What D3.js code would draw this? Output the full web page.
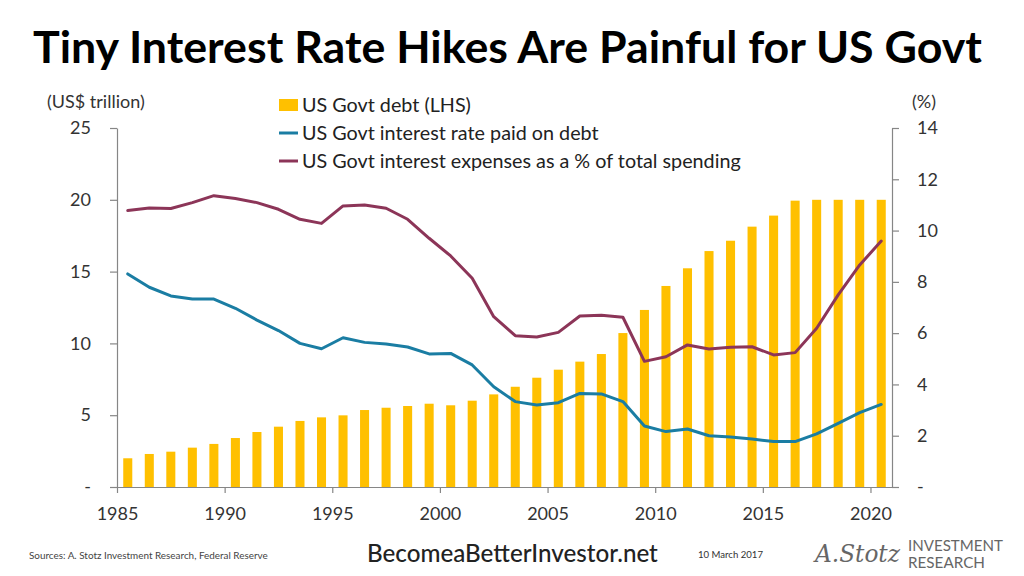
<!DOCTYPE html>
<html><head><meta charset="utf-8">
<script src="https://cdn.jsdelivr.net/npm/d3@7"></script>
<style>body{margin:0;background:#fff}svg{display:block}</style>
</head><body>
<svg id="c" width="1024" height="576"></svg>
<script>
const years = [1985,1986,1987,1988,1989,1990,1991,1992,1993,1994,1995,1996,1997,1998,1999,2000,2001,2002,2003,2004,2005,2006,2007,2008,2009,2010,2011,2012,2013,2014,2015,2016,2017,2018,2019,2020];
const debt = [2.0,2.3,2.46,2.74,3.0,3.41,3.83,4.2,4.6,4.85,4.99,5.36,5.52,5.64,5.8,5.69,6.01,6.45,6.98,7.61,8.17,8.73,9.26,10.72,12.33,14.0,15.23,16.43,17.15,18.13,18.9,19.94,20,20,20,20];
const ratePaid = [8.31,7.79,7.45,7.33,7.33,6.97,6.51,6.10,5.60,5.39,5.82,5.64,5.58,5.46,5.19,5.21,4.76,3.91,3.33,3.20,3.29,3.65,3.63,3.33,2.38,2.16,2.26,2.00,1.95,1.87,1.77,1.77,2.07,2.48,2.90,3.22];
const interestShare = [10.78,10.88,10.86,11.09,11.36,11.25,11.09,10.83,10.44,10.28,10.96,11.0,10.87,10.44,9.70,9.01,8.14,6.64,5.90,5.85,6.03,6.67,6.70,6.62,4.90,5.08,5.54,5.38,5.45,5.47,5.15,5.24,6.19,7.49,8.66,9.59];
const xTicks = [1985,1990,1995,2000,2005,2010,2015,2020];
const leftTicks = [0,5,10,15,20,25];
const rightTicks = [0,2,4,6,8,10,12,14];
const legendLabels = ["US Govt debt (LHS)","US Govt interest rate paid on debt","US Govt interest expenses as a % of total spending"];
const title = "Tiny Interest Rate Hikes Are Painful for US Govt";

const C = {bar:"#FFC000", blue:"#1A7DA3", red:"#8C3558", axis:"#868686", text:"#333"};
const FONT = "Lato, 'Open Sans', sans-serif";
const svg = d3.select("#c");
const L = 117, R = 892, T = 128, B = 487;

function fit(sel, w){ const s = +sel.attr("font-size"); const l = sel.node().getComputedTextLength(); sel.attr("font-size", s*w/l); return sel; }

// title
fit(svg.append("text").attr("x",33).attr("y",63).attr("font-family",FONT).attr("font-weight",700)
  .attr("font-size",46).attr("fill","#000").text(title), 949);

const xb = d3.scaleBand().domain(years).range([L,R]).padding(0);
const xl = d3.scaleLinear().domain([1985,2021]).range([L,R]);
const yL = d3.scaleLinear().domain([0,25]).range([B,T]);
const yR = d3.scaleLinear().domain([0,14]).range([B,T]);
const barW = xb.bandwidth()*0.42;

// bars
svg.append("g").selectAll("rect").data(years).join("rect")
  .attr("x", (d)=> xb(d) + (xb.bandwidth()-barW)/2)
  .attr("width", barW)
  .attr("y", (d,i)=> yL(debt[i]))
  .attr("height", (d,i)=> B - yL(debt[i]))
  .attr("fill", C.bar);

// axes
function styleAxis(g){
  g.selectAll("path,line").attr("stroke",C.axis).attr("stroke-width",1.2);
  g.selectAll("text").attr("font-family",FONT).attr("font-size",18).attr("fill",C.text);
}
const fmt = d => d===0 ? "-" : d;
svg.append("g").attr("transform",`translate(${L},0)`)
  .call(d3.axisLeft(yL).tickValues(leftTicks).tickFormat(fmt).tickSize(7).tickSizeOuter(0).tickPadding(19))
  .call(styleAxis);
svg.append("g").attr("transform",`translate(${R},0)`)
  .call(d3.axisRight(yR).tickValues(rightTicks).tickFormat(fmt).tickSize(7).tickSizeOuter(0).tickPadding(18))
  .call(styleAxis);
svg.append("g").attr("transform",`translate(0,${B})`)
  .call(d3.axisBottom(xl).tickValues(xTicks).tickFormat(d3.format("d")).tickSize(6).tickSizeOuter(0).tickPadding(14))
  .call(styleAxis);

// lines
const cx = d => xb(d) + xb.bandwidth()/2;
const line = arr => d3.line().x(d=>cx(d)).y((d,i)=>yR(arr[i]))(years);
svg.append("path").attr("d", line(ratePaid)).attr("fill","none").attr("stroke",C.blue)
  .attr("stroke-width",3).attr("stroke-linejoin","round").attr("stroke-linecap","round");
svg.append("path").attr("d", line(interestShare)).attr("fill","none").attr("stroke",C.red)
  .attr("stroke-width",3).attr("stroke-linejoin","round").attr("stroke-linecap","round");

// axis titles
svg.append("text").attr("x",47).attr("y",108).attr("font-family",FONT).attr("font-size",18).attr("fill",C.text).text("(US$ trillion)");
svg.append("text").attr("x",912).attr("y",108).attr("font-family",FONT).attr("font-size",18).attr("fill",C.text).text("(%)");

// legend
const legY = [105,133,161];
const lg = svg.append("g");
lg.append("rect").attr("x",279).attr("y",legY[0]-6).attr("width",19).attr("height",12).attr("fill",C.bar);
lg.append("line").attr("x1",279).attr("x2",298).attr("y1",legY[1]).attr("y2",legY[1]).attr("stroke",C.blue).attr("stroke-width",3);
lg.append("line").attr("x1",279).attr("x2",298).attr("y1",legY[2]).attr("y2",legY[2]).attr("stroke",C.red).attr("stroke-width",3);
const lt = lg.selectAll("text").data(legendLabels).join("text")
  .attr("x",302).attr("y",(d,i)=>legY[i]).attr("dy","0.35em")
  .attr("font-family",FONT).attr("font-size",18).attr("fill","#222").text(d=>d);
const w3 = lt.filter((d,i)=>i===2).node().getComputedTextLength();
lt.attr("font-size", 18*439/w3);

// footer
fit(svg.append("text").attr("x",29).attr("y",559).attr("font-family",FONT).attr("font-size",10).attr("fill","#444")
  .text("Sources: A. Stotz Investment Research, Federal Reserve"), 239);
fit(svg.append("text").attr("x",367).attr("y",562).attr("font-family",FONT).attr("font-weight",500).attr("font-size",20).attr("fill","#222")
  .text("BecomeaBetterInvestor.net"), 291);
fit(svg.append("text").attr("x",698).attr("y",558).attr("font-family",FONT).attr("font-size",10).attr("fill","#333")
  .text("10 March 2017"), 65);
fit(svg.append("text").attr("x",815).attr("y",562).attr("font-family","'DejaVu Serif', serif").attr("font-style","italic")
  .attr("font-size",26).attr("fill","#666").text("A.Stotz"), 85);
fit(svg.append("text").attr("x",908).attr("y",551).attr("font-family",FONT).attr("font-size",15).attr("fill","#666")
  .text("INVESTMENT"), 95);
fit(svg.append("text").attr("x",908).attr("y",568).attr("font-family",FONT).attr("font-size",15).attr("fill","#666")
  .text("RESEARCH"), 77);
</script>
</body></html>
